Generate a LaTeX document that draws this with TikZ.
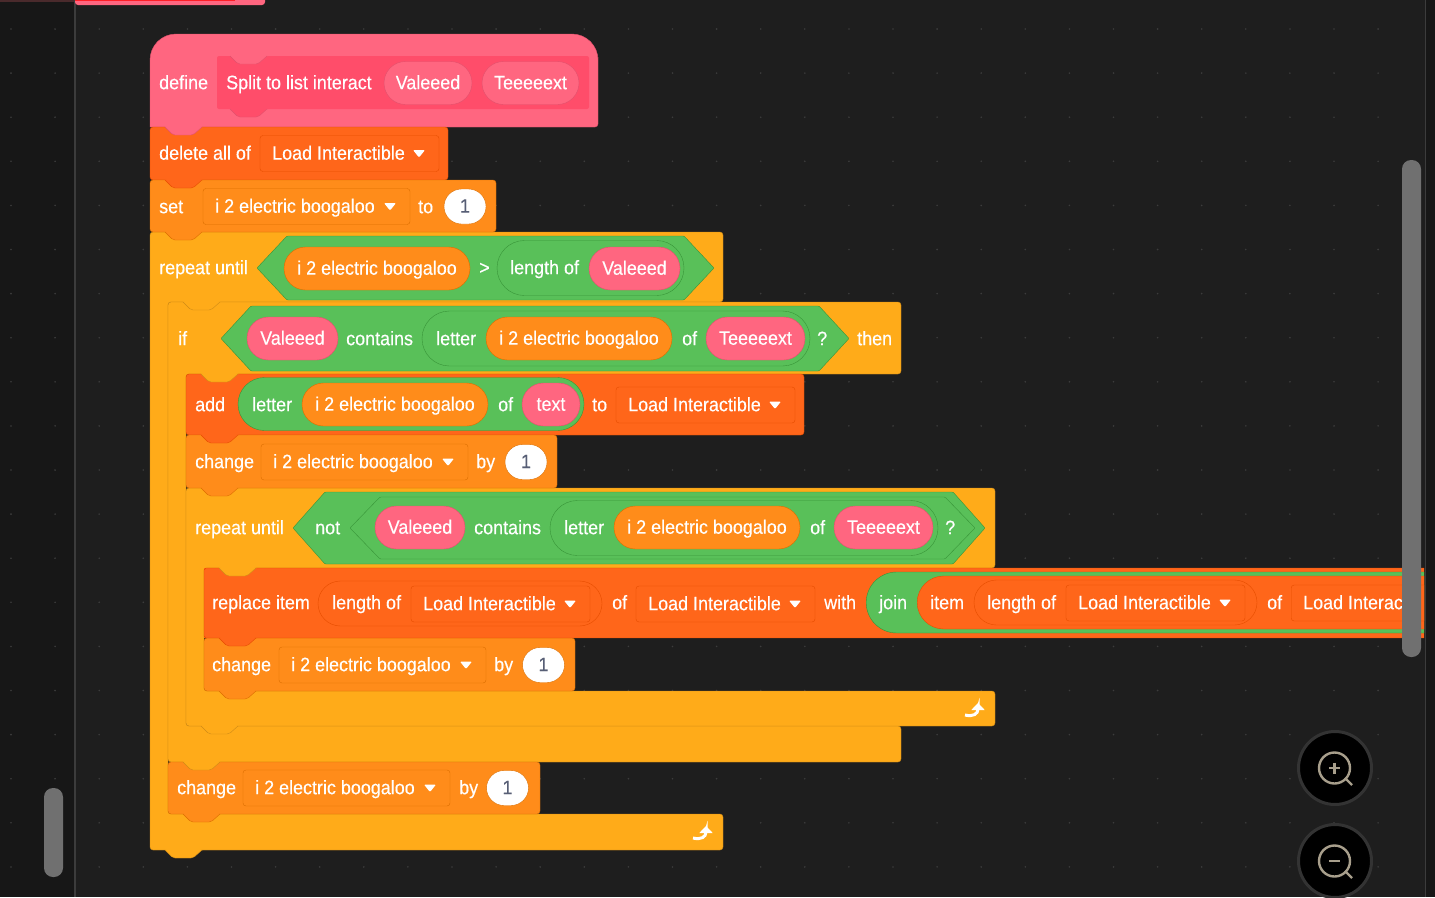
\documentclass[tikz,border=0pt]{standalone}
\usepackage{fontspec}
\setmainfont[FakeStretch=0.92,FakeBold=0.3]{Liberation Sans}
\usepackage{tikz}
\usetikzlibrary{shapes.misc, arrows.meta}
\definecolor{canvas}{HTML}{1E1E1E}
\definecolor{panel}{HTML}{171717}
\definecolor{griddot}{HTML}{3C3C3C}
\definecolor{procfill}{HTML}{FF6680}
\definecolor{procdark}{HTML}{FF4D6A}
\definecolor{procedge}{HTML}{E2506C}
\definecolor{listfill}{HTML}{FF661A}
\definecolor{listedge}{HTML}{E64D00}
\definecolor{varfill}{HTML}{FF8C1A}
\definecolor{varedge}{HTML}{DB6E00}
\definecolor{ctrlfill}{HTML}{FFAB19}
\definecolor{ctrledge}{HTML}{CF8B17}
\definecolor{opfill}{HTML}{59C059}
\definecolor{opedge}{HTML}{389438}
\definecolor{numtext}{HTML}{575E75}
\definecolor{barfill}{HTML}{707070}
\definecolor{iconline}{HTML}{A89F8C}
\definecolor{topstrip}{HTML}{4A2A2C}
\tikzstyle{blocktext} = [text=white, inner sep=0, anchor=west, text height=12.4, text depth=0, font=\fontsize{19.5}{20}\selectfont]
\tikzstyle{pillbase} = [rounded rectangle, inner sep=0, minimum height=43, text=white, text height=12.4, text depth=0, font=\fontsize{19.5}{20}\selectfont]
\tikzstyle{procpill} = [pillbase, fill=procfill, draw=procedge]
\tikzstyle{varpill} = [pillbase, fill=varfill, draw=varedge]
\tikzstyle{oppill} = [pillbase, fill=opfill, draw=opedge, minimum height=55]
\tikzstyle{listpill} = [pillbase, fill=listfill, draw=listedge, minimum height=45]
\tikzstyle{numpill} = [pillbase, fill=white, draw=varedge, text=numtext, minimum height=35, minimum width=42]
\tikzstyle{listfield} = [rectangle, rounded corners=3, inner sep=0, minimum height=36, fill=listfill, draw=listedge]
\tikzstyle{varfield} = [rectangle, rounded corners=3, inner sep=0, minimum height=36, fill=varfill, draw=varedge]
\tikzstyle{procblock} = [fill=procfill, draw=procedge, rounded corners=3]
\tikzstyle{listblock} = [fill=listfill, draw=listedge, rounded corners=3]
\tikzstyle{varblock} = [fill=varfill, draw=varedge, rounded corners=3]
\tikzstyle{ctrlblock} = [fill=ctrlfill, draw=ctrledge, rounded corners=3]
\tikzstyle{opshape} = [fill=opfill, draw=opedge, rounded corners=1]
\tikzstyle{loopicon} = [white, line width=3, -{Triangle[width=13, length=7]}]
\tikzstyle{zoombutton} = [circle, minimum size=73, inner sep=0, fill=black, draw=griddot!85!black, line width=3]
\tikzstyle{lensline} = [iconline, line width=2.4]
\newcommand{\notch}[4]{
  \fill [#3, rounded corners=2] (#1+15,#2-1) -- (#1+15,#2) -- (#1+23,#2+8) -- (#1+43,#2+8) -- (#1+52,#2) -- (#1+52,#2-1) -- cycle;
  \draw [#4, rounded corners=2] (#1+15,#2) -- (#1+23,#2+8) -- (#1+43,#2+8) -- (#1+52,#2);
}
\newcommand{\dropfield}[6]{
  \node (#1) [#2, minimum width={#4-#3}] at ({(#3+#4)/2},#5) {};
  \node (#1text) [blocktext] at (#3+12,#5) {#6};
  \fill [white, rounded corners=1] (#4-26,#5-3.5) -- (#4-14,#5-3.5) -- (#4-20,#5+4) -- cycle;
}
\begin{document}
\begin{tikzpicture}[x=1pt, y=-1pt]
\useasboundingbox (0,0) rectangle (1435,897);
\fill [canvas] (0,0) rectangle (1435,897);
\fill [panel] (0,0) rectangle (75,897);
\fill [panel] (1425,0) rectangle (1435,897);
\foreach \i in {0,...,31}
  \foreach \j in {0,...,19}
    \fill [griddot] (11+44.1*\i,29+44.1*\j) circle (0.9);
\fill [topstrip] (0,0) rectangle (75,2);
\draw [griddot, line width=1.5] (75,0) -- (75,897);
\draw [griddot, line width=1] (1425,0) -- (1425,897);
\fill [procfill, rounded corners=3] (75,-4) rectangle (265,5);
\fill [red!70!procfill] (75,0) rectangle (235,1.2);

\draw [procblock] (150,127) -- (598,127) -- (598,60) [rounded corners=26] -- (598,34) -- (150,34) -- (150,127);
\fill [procdark, rounded corners=2] (217,56) rectangle (589,109);
\notch{215}{56}{procfill}{procedge}
\notch{215}{109}{procdark}{procedge}
\node (defword) [blocktext] at (159,83) {define};
\node (protoword) [blocktext] at (226,83) {Split to list interact};
\node (protoval) [procpill, minimum width=88] at (428,83) {Valeeed};
\node (prototext) [procpill, minimum width=97] at (530.5,83) {Teeeeext};

\draw [ctrlblock] (150,232) -- (723,232) -- (723,302) -- (168,302) -- (168,814) -- (723,814) -- (723,850) -- (150,850) -- cycle;
\draw [ctrlblock] (168,302) -- (901,302) -- (901,374) -- (186,374) -- (186,726) -- (901,726) -- (901,762) -- (168,762) -- cycle;
\draw [ctrlblock] (186,488) -- (995,488) -- (995,568) -- (204,568) -- (204,691) -- (995,691) -- (995,726) -- (186,726) -- cycle;
\draw [listblock] (150,127) rectangle (448,180);
\draw [varblock] (150,180) rectangle (496,232);
\draw [listblock] (186,374) rectangle (804,435);
\draw [varblock] (186,435) rectangle (557,488);
\draw [varblock] (204,638) rectangle (575,691);
\draw [varblock] (168,762) rectangle (540,814);

\begin{scope}
\clip (200,560) rectangle (1424,650);
\fill [listfill] (204,568) rectangle (1430,638);
\draw [listedge] (1430,568) -- (206,568) -- (204,570) -- (204,636) -- (206,638) -- (1430,638);
\node (joinpill) [oppill, minimum width=700, minimum height=61, anchor=west] at (866,602.5) {};
\node (itempill) [listpill, minimum width=650, minimum height=53, anchor=west] at (917,602.5) {};
\node (lenpilltwo) [listpill, minimum width=283] at (1115.5,602.5) {};
\dropfield{fieldsix}{listfield}{1066}{1245}{603}{Load Interactible}
\node (ofsix) [blocktext] at (1267,603) {of};
\node (fieldseven) [listfield, minimum width=180, anchor=west] at (1291,603) {};
\end{scope}
\node (sevenword) [blocktext] at (1303,603) {Load Interac};

\node (addword) [blocktext] at (195,405) {add};
\node (addletter) [oppill, minimum width=346, minimum height=53] at (411,404) {};
\node (addlettertext) [blocktext] at (252,405) {letter};
\node (addidx) [varpill, minimum width=186] at (395,404.5) {i 2 electric boogaloo};
\node (addof) [blocktext] at (498,405) {of};
\node (addtext) [procpill, minimum width=58] at (551,404.5) {text};
\node (addto) [blocktext] at (592,405) {to};
\dropfield{fieldthree}{listfield}{616}{795}{405}{Load Interactible}

\node (delword) [blocktext] at (159,153.5) {delete all of};
\dropfield{fieldone}{listfield}{260}{439}{153.5}{Load Interactible}
\node (setword) [blocktext] at (159,207) {set};
\dropfield{fieldtwo}{varfield}{203}{410}{206.5}{i 2 electric boogaloo}
\node (settoword) [blocktext] at (418,207) {to};
\node (setnum) [numpill] at (465,206.5) {1};

\node (repword) [blocktext] at (159,268) {repeat until};
\draw [opshape] (257,268) -- (287,236) -- (684,236) -- (714,268) -- (684,300) -- (287,300) -- cycle;
\node (repidx) [varpill, minimum width=186] at (377,268.5) {i 2 electric boogaloo};
\node (repgt) [blocktext] at (479,268) {>};
\node (replen) [oppill, minimum width=187] at (590.5,268) {};
\node (replenword) [blocktext] at (510,268) {length of};
\node (repval) [procpill, minimum width=91] at (634.5,268.5) {Valeeed};

\node (ifword) [blocktext] at (178,339) {if};
\draw [opshape] (221,338.5) -- (251,306) -- (819,306) -- (849,338.5) -- (819,371) -- (251,371) -- cycle;
\node (ifval) [procpill, minimum width=91] at (292.5,338.5) {Valeeed};
\node (ifcontains) [blocktext] at (346,339) {contains};
\node (ifletter) [oppill, minimum width=388] at (616,338.5) {};
\node (ifletterword) [blocktext] at (436,339) {letter};
\node (ifidx) [varpill, minimum width=186] at (579,338.5) {i 2 electric boogaloo};
\node (ifof) [blocktext] at (682,339) {of};
\node (iftext) [procpill, minimum width=99] at (755.5,338.5) {Teeeeext};
\node (ifmark) [blocktext] at (817,339) {?};
\node (ifthen) [blocktext] at (857,339) {then};

\node (chgword) [blocktext] at (195,462) {change};
\dropfield{fieldfour}{varfield}{261}{468}{462}{i 2 electric boogaloo}
\node (chgby) [blocktext] at (476,462) {by};
\node (chgnum) [numpill] at (526,462) {1};

\node (untilword) [blocktext] at (195,528) {repeat until};
\draw [opshape] (293,528) -- (325,492) -- (953,492) -- (985,528) -- (953,564) -- (325,564) -- cycle;
\node (notword) [blocktext] at (315,528) {not};
\draw [opshape] (350,528) -- (380,497) -- (945,497) -- (975,528) -- (945,559) -- (380,559) -- cycle;
\node (untilval) [procpill, minimum width=90] at (420,527.5) {Valeeed};
\node (untilcontains) [blocktext] at (474,528) {contains};
\node (untilletter) [oppill, minimum width=388] at (744,528) {};
\node (untilletterword) [blocktext] at (564,528) {letter};
\node (untilidx) [varpill, minimum width=186] at (707,527.5) {i 2 electric boogaloo};
\node (untilof) [blocktext] at (810,528) {of};
\node (untiltext) [procpill, minimum width=99] at (883.5,527.5) {Teeeeext};
\node (untilmark) [blocktext] at (945,528) {?};

\node (replword) [blocktext] at (212,603) {replace item};
\node (lenpillone) [listpill, minimum width=284] at (460,603.5) {};
\node (lenoneword) [blocktext] at (332,603) {length of};
\dropfield{fieldeight}{listfield}{411}{590}{604}{Load Interactible}
\node (replof) [blocktext] at (612,603) {of};
\dropfield{fieldnine}{listfield}{636}{815}{604}{Load Interactible}
\node (replwith) [blocktext] at (824,603) {with};
\node (joinword) [blocktext] at (879,603) {join};
\node (itemword) [blocktext] at (930,603) {item};
\node (lentwoword) [blocktext] at (987,603) {length of};

\node (innerword) [blocktext] at (212,665) {change};
\dropfield{fieldten}{varfield}{279}{486}{665}{i 2 electric boogaloo}
\node (innerby) [blocktext] at (494,665) {by};
\node (innernum) [numpill] at (543.5,665) {1};

\node (lastword) [blocktext] at (177,788) {change};
\dropfield{fieldlast}{varfield}{243}{450}{788}{i 2 electric boogaloo}
\node (lastby) [blocktext] at (459,788) {by};
\node (lastnum) [numpill] at (507.5,788) {1};

\notch{150}{127}{procfill}{procedge}
\notch{150}{180}{listfill}{listedge}
\notch{150}{232}{varfill}{varedge}
\notch{168}{302}{ctrlfill}{ctrledge}
\notch{186}{374}{ctrlfill}{ctrledge}
\notch{186}{435}{listfill}{listedge}
\notch{186}{488}{varfill}{varedge}
\notch{204}{568}{ctrlfill}{ctrledge}
\notch{204}{638}{listfill}{listedge}
\notch{204}{691}{varfill}{varedge}
\notch{186}{726}{ctrlfill}{ctrledge}
\notch{168}{762}{ctrlfill}{ctrledge}
\notch{168}{814}{varfill}{varedge}
\notch{150}{850}{ctrlfill}{ctrledge}

\draw [loopicon] (965,715) .. controls (973,717) and (978,714) .. (978,709) -- (978,703);
\draw [loopicon] (693,838) .. controls (701,840) and (706,837) .. (706,832) -- (706,826);

\fill [barfill, rounded corners=9] (1402,160) rectangle (1421,657);
\fill [barfill, rounded corners=9] (44,788) rectangle (63,877);

\node (zoomin) [zoombutton] at (1335,768) {};
\draw [lensline] (1334.5,768) circle (15.5);
\draw [lensline] (1345,778) -- (1352,785);
\draw [lensline] (1329,768) -- (1340,768);
\draw [lensline] (1334.5,762.5) -- (1334.5,773.5);
\node (zoomout) [zoombutton] at (1335,861) {};
\draw [lensline] (1334.5,861) circle (15.5);
\draw [lensline] (1345,871) -- (1352,878);
\draw [lensline] (1329,861) -- (1340,861);
\end{tikzpicture}
\end{document}
